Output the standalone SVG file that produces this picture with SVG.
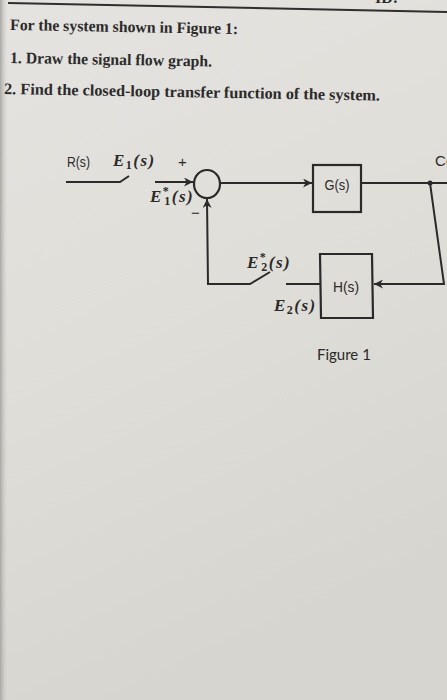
<svg xmlns="http://www.w3.org/2000/svg" width="447" height="700" viewBox="0 0 447 700">
<defs>
<linearGradient id="bg" x1="0" y1="0" x2="0.3" y2="1">
<stop offset="0" stop-color="#e5e3df"/>
<stop offset="0.5" stop-color="#e0ded9"/>
<stop offset="1" stop-color="#d7d5d0"/>
</linearGradient>
<linearGradient id="edge" x1="0" y1="0" x2="1" y2="0">
<stop offset="0" stop-color="#a9a7a3"/>
<stop offset="1" stop-color="#d9d7d2" stop-opacity="0"/>
</linearGradient>
<marker id="arr" viewBox="0 0 10 10" refX="10" refY="5" markerWidth="11" markerHeight="9" markerUnits="userSpaceOnUse" orient="auto">
<path d="M0,0 L10,5 L0,10 L3,5 Z" fill="#2a2a2a"/>
</marker>
<style>
.q{font-family:"Liberation Serif",serif;font-weight:bold;font-size:16px;fill:#2b2b2b}
.ln{stroke:#2a2a2a;stroke-width:2;fill:none}
.bx{stroke:#2a2a2a;stroke-width:2.2;fill:none}
.sans{font-family:"Liberation Sans",sans-serif;font-size:15px;fill:#2a2a2a}
.mat{font-family:"Liberation Serif",serif;font-weight:bold;font-style:italic;font-size:17px;fill:#2a2a2a}
.sub{font-size:12px;font-style:normal}
.fig{font-family:Lato,"Liberation Sans",sans-serif;font-size:15px;fill:#2a2a2a}
</style>
</defs>
<rect width="447" height="700" fill="url(#bg)"/>
<rect width="8" height="700" fill="url(#edge)"/>
<line x1="8" y1="3" x2="447" y2="12" stroke="#2e2e2e" stroke-width="2"/>
<text x="375" y="3" class="q" font-weight="normal" font-size="13">ID:</text>
<g id="question">
<text class="q" x="10" y="30" transform="rotate(1 10 30)" textLength="228" lengthAdjust="spacingAndGlyphs">For the system shown in Figure 1:</text>
<text class="q" x="10" y="63" transform="rotate(1 10 63)" textLength="202" lengthAdjust="spacingAndGlyphs">1. Draw the signal flow graph.</text>
<text class="q" x="4" y="94" transform="rotate(1 4 94)" textLength="376" lengthAdjust="spacingAndGlyphs">2. Find the closed-loop transfer function of the system.</text>
</g>
<g id="connectors">
<polyline class="ln" points="66,182 120,182 129,176"/>
<line class="ln" x1="155" y1="182" x2="193" y2="182" marker-end="url(#arr)"/>
<line class="ln" x1="220" y1="183" x2="312" y2="183" marker-end="url(#arr)"/>
<line class="ln" x1="361" y1="183" x2="447" y2="183"/>
<circle cx="430" cy="183" r="2.5" fill="#2a2a2a"/>
<polyline class="ln" points="430,183 444,284 374,284" marker-end="url(#arr)"/>
<line class="ln" x1="320" y1="284" x2="286" y2="284"/>
<polyline class="ln" points="270,272 250,284 208,284 207,199" marker-end="url(#arr)"/>
</g>
<g id="sum">
<ellipse cx="207" cy="184" rx="13" ry="14" class="bx"/>
<text x="178" y="167" class="sans" font-size="12">+</text>
<text x="191" y="218" class="sans" font-size="12">−</text>
</g>
<g id="G">
<rect x="313" y="165" width="48" height="47" class="bx"/>
<text x="337" y="190" class="sans" text-anchor="middle" textLength="25" lengthAdjust="spacingAndGlyphs">G(s)</text>
</g>
<g id="H">
<polygon points="320,254 372,254 373,318 321,318" class="bx"/>
<text x="346" y="292" class="sans" text-anchor="middle" textLength="26" lengthAdjust="spacingAndGlyphs">H(s)</text>
</g>
<g id="labels">
<text x="67" y="167" class="sans" textLength="23" lengthAdjust="spacingAndGlyphs">R(s)</text>
<text x="113" y="166" class="mat" letter-spacing="1.5">E<tspan class="sub" dy="3">1</tspan><tspan dy="-3">(s)</tspan></text>
<text x="150" y="202" class="mat" letter-spacing="1.5">E<tspan class="sub" dy="-7" font-size="10">*</tspan><tspan class="sub" dx="-6" dy="10">1</tspan><tspan dy="-3">(s)</tspan></text>
<text x="247" y="268" class="mat" letter-spacing="1.5">E<tspan class="sub" dy="-7" font-size="10">*</tspan><tspan class="sub" dx="-6" dy="10">2</tspan><tspan dy="-3">(s)</tspan></text>
<text x="274" y="311" class="mat" letter-spacing="1.5">E<tspan class="sub" dy="3">2</tspan><tspan dy="-3">(s)</tspan></text>
<text x="435" y="166" class="sans">C(s)</text>
<text x="317" y="360" class="fig">Figure 1</text>
</g>
</svg>
